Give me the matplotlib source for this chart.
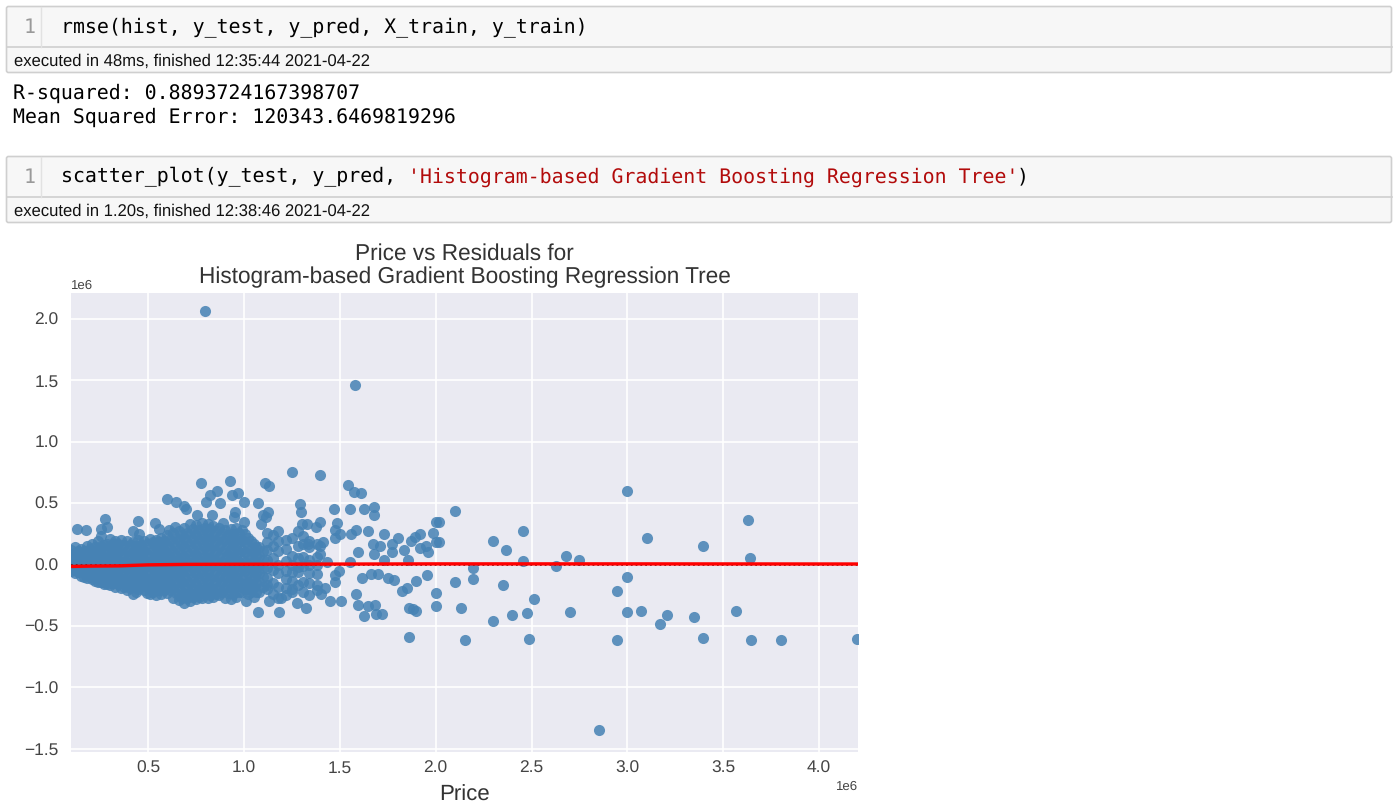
import numpy as np
import matplotlib
matplotlib.use("Agg")
import matplotlib.pyplot as plt
from matplotlib.patches import FancyBboxPatch

plt.rcParams["text.hinting"] = "no_hinting"

# valori, in milioane (pret si reziduu)
sparse_price = [0.797, 1.58, 2.85, 3.0, 2.10, 3.63, 2.455, 2.30, 2.366, 3.10, 3.396, 2.68, 2.75, 2.455, 3.64,
                2.63, 2.196, 2.196, 2.10, 2.35, 3.0, 2.948, 2.514, 2.13, 2.30, 2.40, 2.477, 2.70, 3.0, 3.07,
                3.205, 3.17, 3.345, 3.566, 2.153, 2.485, 2.948, 3.396, 3.646, 3.80, 4.198, 2.02, 2.02, 2.0, 2.0,
                1.25, 1.397, 0.926, 0.778, 1.109, 1.131, 1.543, 1.573, 1.613, 0.86, 0.822, 0.938, 0.97, 0.60,
                0.646, 0.80, 1.0, 1.074, 0.876, 1.295, 0.686, 0.697, 1.47, 1.552, 1.625, 1.677, 1.677, 1.30,
                0.956, 0.756, 1.126, 1.10, 0.832, 0.277, 0.448, 0.535, 0.128, 0.175, 0.284, 0.255, 0.557, 0.61,
                0.64, 0.423, 0.453, 0.255, 1.117, 1.088, 0.947, 0.891, 0.998, 1.302, 1.33, 1.397, 1.375, 1.486,
                1.477, 1.5, 1.477, 1.582, 1.56, 1.648, 1.73, 2.0, 1.987, 1.92, 1.89, 1.873, 2.0, 1.803, 1.773,
                1.71, 1.674, 1.952, 1.917, 1.96, 1.773, 1.834, 1.596, 1.677, 1.855, 1.73, 1.552, 1.434, 1.397,
                1.413, 1.397, 1.335, 1.496, 1.477, 1.477, 1.505, 1.448, 1.582, 1.618, 1.596, 1.648, 1.686,
                1.625, 1.69, 1.72, 1.663, 1.70, 1.752, 1.782, 1.827, 1.848, 1.898, 1.957, 1.86, 1.883, 1.90,
                1.86, 1.074, 1.183, 1.279, 1.324, 1.131, 1.013, 1.194, 1.40, 1.425]
sparse_resid = [2.06, 1.46, -1.35, 0.60, 0.44, 0.36, 0.27, 0.19, 0.12, 0.22, 0.155, 0.07, 0.04, 0.03, 0.05,
                -0.01, -0.03, -0.12, -0.145, -0.165, -0.10, -0.215, -0.28, -0.35, -0.455, -0.41, -0.395, -0.385,
                -0.385, -0.375, -0.41, -0.48, -0.43, -0.375, -0.615, -0.605, -0.615, -0.595, -0.615, -0.615,
                -0.605, 0.35, 0.18, -0.235, -0.34,
                0.75, 0.73, 0.683, 0.66, 0.66, 0.637, 0.648, 0.59, 0.58, 0.60, 0.57, 0.57, 0.58, 0.534,
                0.513, 0.513, 0.513, 0.50, 0.50, 0.49, 0.477, 0.453, 0.453, 0.453, 0.453, 0.467, 0.407, 0.43,
                0.43, 0.407, 0.43, 0.407, 0.407, 0.37, 0.353, 0.34, 0.293, 0.28, 0.304, 0.293, 0.293, 0.28,
                0.304, 0.27, 0.25, 0.236, 0.385, 0.328, 0.385, 0.34, 0.35, 0.328, 0.328, 0.35, 0.304, 0.34,
                0.28, 0.25, 0.214, 0.28, 0.25, 0.27, 0.247, 0.35, 0.258, 0.247, 0.225, 0.19, 0.18, 0.214, 0.168,
                0.155, 0.168, 0.155, 0.133, 0.106, 0.106, 0.12, 0.106, 0.084, 0.04, 0.04, 0.02, 0.02, 0.155,
                0.18, 0.084, 0.168, -0.05, -0.084, -0.144, -0.296, -0.296, -0.236, -0.108, -0.328, -0.339, -0.328,
                -0.42, -0.40, -0.40, -0.076, -0.076, -0.108, -0.122, -0.214, -0.19, -0.133, -0.087, -0.35, -0.363,
                -0.374, -0.59, -0.385, -0.385, -0.315, -0.35, -0.296, -0.296, -0.27, -0.24, -0.19]

# zona densa, pe coloane: un pret si reziduurile lui
blob_price = [0.10, 0.12, 0.15, 0.18, 0.21, 0.24, 0.27, 0.30, 0.33, 0.36, 0.39, 0.42, 0.45, 0.48, 0.51, 0.54,
              0.57, 0.60, 0.63, 0.66, 0.69, 0.72, 0.75, 0.78, 0.81, 0.84, 0.87, 0.90, 0.93, 0.96, 0.99, 1.02,
              1.05, 1.08, 1.12, 1.15, 1.18, 1.22, 1.25, 1.28, 1.31, 1.34, 1.38]
blob_resid = [
    [0.12, 0.05, -0.01, -0.05],
    [0.14, 0.08, 0.02, -0.04, -0.07],
    [0.13, 0.07, 0.01, -0.05, -0.09],
    [0.15, 0.09, 0.03, -0.03, -0.08, -0.11],
    [0.17, 0.10, 0.05, -0.02, -0.07, -0.12],
    [0.19, 0.12, 0.06, 0.0, -0.06, -0.11, -0.14],
    [0.16, 0.10, 0.04, -0.02, -0.08, -0.14, -0.16],
    [0.21, 0.14, 0.07, 0.01, -0.05, -0.10, -0.17],
    [0.19, 0.12, 0.06, -0.01, -0.07, -0.13, -0.18],
    [0.20, 0.13, 0.05, -0.02, -0.09, -0.15, -0.19],
    [0.19, 0.11, 0.04, -0.03, -0.10, -0.16, -0.21],
    [0.18, 0.10, 0.03, -0.04, -0.11, -0.17, -0.24],
    [0.20, 0.12, 0.05, -0.02, -0.08, -0.14, -0.20],
    [0.19, 0.11, 0.04, -0.03, -0.10, -0.16, -0.21],
    [0.21, 0.13, 0.06, 0.0, -0.07, -0.13, -0.19, -0.24],
    [0.20, 0.14, 0.07, 0.01, -0.06, -0.12, -0.18, -0.25],
    [0.22, 0.15, 0.08, 0.02, -0.05, -0.11, -0.17, -0.24],
    [0.24, 0.16, 0.09, 0.02, -0.05, -0.12, -0.18, -0.23],
    [0.26, 0.18, 0.10, 0.03, -0.04, -0.11, -0.19, -0.27],
    [0.27, 0.20, 0.12, 0.04, -0.03, -0.10, -0.18, -0.25, -0.29],
    [0.30, 0.22, 0.14, 0.06, -0.02, -0.09, -0.17, -0.24, -0.31],
    [0.33, 0.25, 0.17, 0.09, 0.01, -0.07, -0.15, -0.23, -0.30],
    [0.32, 0.24, 0.16, 0.08, 0.0, -0.08, -0.16, -0.23, -0.28],
    [0.34, 0.26, 0.18, 0.10, 0.02, -0.06, -0.14, -0.21, -0.27],
    [0.33, 0.25, 0.17, 0.09, 0.01, -0.07, -0.15, -0.22, -0.27],
    [0.31, 0.23, 0.15, 0.07, -0.01, -0.09, -0.17, -0.23, -0.26],
    [0.30, 0.22, 0.14, 0.06, -0.02, -0.10, -0.18, -0.25],
    [0.28, 0.20, 0.12, 0.04, -0.04, -0.11, -0.19, -0.27],
    [0.29, 0.21, 0.13, 0.05, -0.03, -0.11, -0.19, -0.28],
    [0.30, 0.22, 0.14, 0.06, -0.02, -0.10, -0.18, -0.26],
    [0.28, 0.20, 0.12, 0.04, -0.04, -0.12, -0.18, -0.22],
    [0.22, 0.15, 0.08, 0.0, -0.07, -0.14, -0.20, -0.24],
    [0.17, 0.10, 0.03, -0.04, -0.11, -0.18, -0.26],
    [0.14, 0.07, 0.0, -0.07, -0.14, -0.22],
    [0.26, 0.18, 0.12, 0.04, -0.03, -0.11, -0.17, -0.20],
    [0.24, 0.15, 0.05, -0.04, -0.15, -0.24],
    [0.27, 0.19, 0.11, 0.0, -0.07, -0.18, -0.27],
    [0.20, 0.13, 0.03, -0.05, -0.12, -0.19, -0.25],
    [0.22, 0.07, 0.0, -0.06, -0.13, -0.20, -0.22],
    [0.27, 0.15, 0.05, -0.02, -0.06, -0.17],
    [0.23, 0.17, 0.06, -0.01, -0.14, -0.22],
    [0.19, 0.14, 0.04, 0.0, -0.07, -0.15, -0.25],
    [0.17, 0.06, 0.0, -0.08, -0.17, -0.21],
]

# a doua trecere prin zona densa, intre coloanele de mai sus
fill_price = [0.11, 0.135, 0.165, 0.195, 0.225, 0.255, 0.285, 0.315, 0.345, 0.375, 0.405, 0.435, 0.465, 0.495,
              0.525, 0.555, 0.585, 0.615, 0.645, 0.675, 0.705, 0.735, 0.765, 0.795, 0.825, 0.855, 0.885, 0.915,
              0.945, 0.975, 1.005, 1.035, 1.065, 1.10]
fill_resid = [
    [0.09, 0.03, -0.03],
    [0.11, 0.05, -0.01, -0.06],
    [0.11, 0.04, -0.02, -0.07, -0.10],
    [0.13, 0.06, 0.0, -0.05, -0.10],
    [0.14, 0.08, 0.02, -0.04, -0.09, -0.13],
    [0.15, 0.09, 0.03, -0.03, -0.09, -0.14],
    [0.17, 0.11, 0.05, -0.01, -0.07, -0.12, -0.16],
    [0.17, 0.10, 0.04, -0.03, -0.09, -0.15],
    [0.17, 0.10, 0.03, -0.04, -0.10, -0.16],
    [0.16, 0.09, 0.02, -0.05, -0.12, -0.18],
    [0.16, 0.08, 0.01, -0.06, -0.13, -0.19],
    [0.15, 0.08, 0.01, -0.06, -0.12, -0.18, -0.22],
    [0.16, 0.09, 0.02, -0.05, -0.11, -0.17],
    [0.17, 0.09, 0.02, -0.05, -0.12, -0.18, -0.23],
    [0.18, 0.11, 0.04, -0.03, -0.10, -0.16, -0.22],
    [0.18, 0.11, 0.04, -0.02, -0.09, -0.15, -0.21],
    [0.19, 0.12, 0.05, -0.02, -0.08, -0.14, -0.21],
    [0.20, 0.13, 0.06, -0.01, -0.08, -0.15, -0.21],
    [0.22, 0.14, 0.07, 0.0, -0.07, -0.15, -0.23],
    [0.24, 0.16, 0.08, 0.01, -0.06, -0.14, -0.22, -0.27],
    [0.26, 0.18, 0.10, 0.02, -0.05, -0.13, -0.20, -0.27],
    [0.29, 0.21, 0.13, 0.05, -0.03, -0.11, -0.19, -0.26],
    [0.28, 0.20, 0.12, 0.04, -0.04, -0.12, -0.20, -0.26],
    [0.30, 0.22, 0.14, 0.06, -0.02, -0.10, -0.18, -0.24],
    [0.29, 0.21, 0.13, 0.05, -0.03, -0.11, -0.19, -0.25],
    [0.27, 0.19, 0.11, 0.03, -0.05, -0.13, -0.20, -0.24],
    [0.26, 0.18, 0.10, 0.02, -0.06, -0.14, -0.22],
    [0.24, 0.16, 0.08, 0.0, -0.07, -0.15, -0.23],
    [0.25, 0.17, 0.09, 0.01, -0.07, -0.15, -0.24],
    [0.26, 0.18, 0.10, 0.02, -0.06, -0.14, -0.22],
    [0.25, 0.18, 0.10, 0.02, -0.05, -0.13, -0.20],
    [0.19, 0.12, 0.05, -0.03, -0.10, -0.17, -0.22],
    [0.14, 0.07, 0.0, -0.07, -0.15, -0.22],
    [0.11, 0.04, -0.03, -0.10, -0.18],
]

# linia lowess rosie
lowess_price = [0.10, 0.20, 0.35, 0.50, 0.70, 1.00, 2.00, 3.00, 4.20]
lowess_resid = [-0.015, -0.012, -0.010, -0.002, 0.002, 0.003, 0.006, 0.006, 0.005]

x_ticks = [0.5, 1.0, 1.5, 2.0, 2.5, 3.0, 3.5, 4.0]
y_ticks = [-1.5, -1.0, -0.5, 0.0, 0.5, 1.0, 1.5, 2.0]

W, H = 1400, 809
fig = plt.figure(figsize=(14, 8.09), dpi=100)

# fundalul de notebook, in pixeli
bg = fig.add_axes([0, 0, 1, 1])
bg.set_xlim(0, W)
bg.set_ylim(H, 0)
bg.axis("off")

mono = "DejaVu Sans Mono"
sans = "Liberation Sans"


def cell(top, code_parts, footer):
    box = FancyBboxPatch((6.5, top + 0.5), 1385, 66, boxstyle="round,pad=0,rounding_size=2",
                         fc="#f7f7f7", ec="#cfcfcf", lw=1.2)
    bg.add_patch(box)
    bg.plot([6.5, 1391.5], [top + 41, top + 41], color="#cfcfcf", lw=1.2)
    bg.plot([41, 41], [top + 1, top + 41], color="#e2e2e2", lw=1)
    bg.text(36, top + 21, "1", family=mono, fontsize=14.3, color="#999999", ha="right", va="center")
    x = 61
    for txt, col in code_parts:
        bg.text(x, top + 21, txt, family=mono, fontsize=14.3, color=col, ha="left", va="center")
        x += len(txt) * 11.95
    bg.text(14, top + 55, footer, family=sans, fontsize=12, color="#111111", ha="left", va="center")


cell(6, [("rmse(hist, y_test, y_pred, X_train, y_train)", "black")],
     "executed in 48ms, finished 12:35:44 2021-04-22")
cell(156, [("scatter_plot(y_test, y_pred, ", "black"),
           ("'Histogram-based Gradient Boosting Regression Tree'", "#b20b0b"),
           (")", "black")],
     "executed in 1.20s, finished 12:38:46 2021-04-22")
bg.text(13, 93, "R-squared: 0.8893724167398707", family=mono, fontsize=14.3, color="black", va="center")
bg.text(13, 117, "Mean Squared Error: 120343.6469819296", family=mono, fontsize=14.3, color="black", va="center")

# graficul
ax = fig.add_axes([71 / W, 1 - 752 / H, (858 - 71) / W, (752 - 293) / H])
ax.set_facecolor("#eaeaf2")
for s in ax.spines.values():
    s.set_visible(False)
ax.grid(True, color="white", lw=1.2)
ax.set_axisbelow(True)

all_price = list(sparse_price)
all_resid = list(sparse_resid)
for p, col in list(zip(blob_price, blob_resid)) + list(zip(fill_price, fill_resid)):
    all_price += [p] * len(col)
    all_resid += col
all_price = np.array(all_price) * 1e6
all_resid = np.array(all_resid) * 1e6

ax.scatter(all_price, all_resid, s=64, color="steelblue", alpha=0.85, linewidths=0, zorder=2)
ax.axhline(0, color="#333333", ls=":", lw=1.3, zorder=3)
lp = np.array(lowess_price) * 1e6
lr = np.array(lowess_resid) * 1e6
ax.fill_between(lp, lr - 12000, lr + 12000, color="red", alpha=0.2, lw=0, zorder=3)
ax.plot(lp, lr, color="red", lw=2.4, zorder=4)

ax.set_xlim(0.098e6, 4.203e6)
ax.set_ylim(-1.525e6, 2.21e6)
ax.set_xticks(np.array(x_ticks) * 1e6)
ax.set_yticks(np.array(y_ticks) * 1e6)
ax.tick_params(length=0, labelsize=12.5, labelcolor="#444444", pad=9)
ax.tick_params(axis="x", pad=6)
for lab in ax.get_xticklabels() + ax.get_yticklabels():
    lab.set_family(sans)
ax.xaxis.get_offset_text().set(family=sans, fontsize=9.5, color="#444444")
ax.yaxis.get_offset_text().set(family=sans, fontsize=9.5, color="#444444")
ax.set_xlabel("Price", family=sans, fontsize=16, color="#333333", labelpad=6)
ax.set_title("Price vs Residuals for\nHistogram-based Gradient Boosting Regression Tree",
             family=sans, fontsize=16.25, color="#333333", pad=7, linespacing=1.12)

fig.savefig("out.png", dpi=100)
